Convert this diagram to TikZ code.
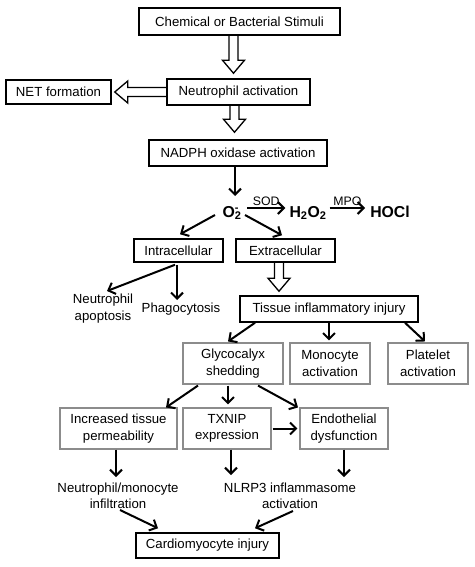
\documentclass[tikz,border=0pt]{standalone}
\usepackage{fontspec}
\setmainfont{Liberation Sans}
\usetikzlibrary{arrows.meta,calc}
\definecolor{boxgray}{RGB}{140,140,140}
\begin{document}
\begin{tikzpicture}[x=1pt,y=-1pt,
  every node/.style={font=\fontsize{13.2}{16.5}\selectfont, align=center, inner sep=0pt},
  bbox/.style={draw=black, line width=1.5pt},
  gbox/.style={draw=boxgray, line width=1.1pt},
  arr/.style={line width=2pt, -{Straight Barb[length=6pt,width=12pt]}},
  chemf/.style={font=\fontsize{15.8}{18}\selectfont\bfseries},
  lbl/.style={font=\fontsize{12.3}{14}\selectfont},
  blk/.style={line width=1.3pt, line join=miter, to path={
    ($(\tikztostart)!4.5pt!90:(\tikztotarget)$) --
    ($(\tikztotarget)!13pt!(\tikztostart)!4.5pt!90:(\tikztotarget)$) --
    ($(\tikztotarget)!13pt!(\tikztostart)!11pt!90:(\tikztotarget)$) --
    (\tikztotarget) --
    ($(\tikztotarget)!13pt!(\tikztostart)!11pt!-90:(\tikztotarget)$) --
    ($(\tikztotarget)!13pt!(\tikztostart)!4.5pt!-90:(\tikztotarget)$) --
    ($(\tikztostart)!4.5pt!-90:(\tikztotarget)$)}}
]
\useasboundingbox[fill=white] (0,0) rectangle (474,567);

% nodes
\node[bbox, minimum width=201pt, minimum height=27pt] (chem) at (239.5,21.5) {Chemical or Bacterial Stimuli};
\node[bbox, minimum width=143pt, minimum height=26pt] (neut) at (238.5,92) {Neutrophil activation};
\node[bbox, minimum width=105pt, minimum height=24pt] (net) at (58.5,92) {NET formation};
\node[bbox, minimum width=178pt, minimum height=26pt] (nadph) at (238,153) {NADPH oxidase activation};
\node[chemf, anchor=base] (o2) at (232,217) {O\rlap{\textsuperscript{-}}\textsubscript{2}};
\node[chemf, anchor=base] (h2o2) at (308,217) {H\textsubscript{2}O\textsubscript{2}};
\node[chemf, anchor=base] (hocl) at (390,217) {HOCl};
\node[bbox, minimum width=89pt, minimum height=23pt] (intra) at (178.5,250.5) {Intracellular};
\node[bbox, minimum width=99pt, minimum height=23pt] (extra) at (285.5,250.5) {Extracellular};
\node (apopt) at (103,308.5) {Neutrophil\\apoptosis};
\node (phago) at (181,309) {Phagocytosis};
\node[bbox, minimum width=178pt, minimum height=26pt] (tissue) at (329,309) {Tissue inflammatory injury};
\node[gbox, minimum width=100pt, minimum height=41pt] (glyco) at (233,363.5) {Glycocalyx\\shedding};
\node[gbox, minimum width=80pt, minimum height=41pt] (mono) at (330,363.5) {Monocyte\\activation};
\node[gbox, minimum width=80pt, minimum height=41pt] (plate) at (428,363.5) {Platelet\\activation};
\node[gbox, minimum width=117pt, minimum height=41pt] (incr) at (118.5,428.5) {Increased tissue\\permeability};
\node[gbox, minimum width=88pt, minimum height=41pt] (txnip) at (227,428.5) {TXNIP\\expression};
\node[gbox, minimum width=88pt, minimum height=41pt] (endo) at (344,428.5) {Endothelial\\dysfunction};
\node (neutmono) at (118,496) {Neutrophil/monocyte\\infiltration};
\node (nlrp3) at (290,496) {NLRP3 inflammasome\\activation};
\node[bbox, minimum width=143pt, minimum height=25pt] (cardio) at (207.5,545.5) {Cardiomyocyte injury};

% block arrows
\draw[blk] ($(chem.south)+(-6,0)$) to ($(neut.north)+(-5,-5)$);
\draw[blk] (neut.west) to ($(net.east)+(3,0)$);
\draw[blk] ($(neut.south)+(-4,0)$) to ($(nadph.north)+(-3.5,-7)$);
\draw[blk] ($(extra.south)+(-6.5,0)$) to ($(tissue.north)+(-50,-4)$);

% thin arrows
\draw[arr] ($(nadph.south)+(-3,0)$) -- ($(o2.base)+(3,-21)$);
\draw[arr] ($(o2.base)+(15,-9)$) -- node[lbl, above=1pt] {SOD} ($(h2o2.base west)+(-4,-9)$);
\draw[arr] ($(h2o2.base east)+(3,-9)$) -- node[lbl, above=1pt] {MPO} ($(hocl.base west)+(-5,-9)$);
\draw[arr] ($(o2.base)+(-17,-2)$) -- ($(intra.north)+(1.5,-4)$);
\draw[arr] ($(o2.base)+(13,-2)$) -- ($(extra.north)+(-3.5,-3)$);
\draw[arr] ($(intra.south)+(-3.5,2)$) -- ($(apopt.center)+(4,-17.5)$);
\draw[arr] ($(intra.south)+(-1.5,2)$) -- ($(phago.center)+(-4,-9)$);
\draw[arr] ($(tissue.south)+(-74,0)$) -- ($(glyco.north)+(-5,-1)$);
\draw[arr] ($(tissue.south)+(0,0)$) -- ($(mono.north)+(-1,-2)$);
\draw[arr] ($(tissue.south)+(76,0)$) -- ($(plate.north)+(-3,-1)$);
\draw[arr] ($(glyco.south)+(-35,1)$) -- ($(incr.north)+(47.5,0)$);
\draw[arr] ($(glyco.south)+(-5,1)$) -- ($(txnip.north)+(1,-3)$);
\draw[arr] ($(glyco.south)+(25,1)$) -- ($(endo.north)+(-46,0)$);
\draw[arr] ($(txnip.east)+(1,0)$) -- ($(endo.west)+(-2,0)$);
\draw[arr] ($(incr.south)+(-2.5,0)$) -- ($(neutmono.center)+(-2,-19)$);
\draw[arr] ($(txnip.south)+(4,0)$) -- ($(nlrp3.center)+(-59,-21)$);
\draw[arr] (endo.south) -- ($(nlrp3.center)+(54,-19)$);
\draw[arr] ($(neutmono.center)+(2,14)$) -- ($(cardio.north)+(-49.5,-4)$);
\draw[arr] ($(nlrp3.center)+(3,15)$) -- ($(cardio.north)+(47.5,-4)$);
\end{tikzpicture}
\end{document}
